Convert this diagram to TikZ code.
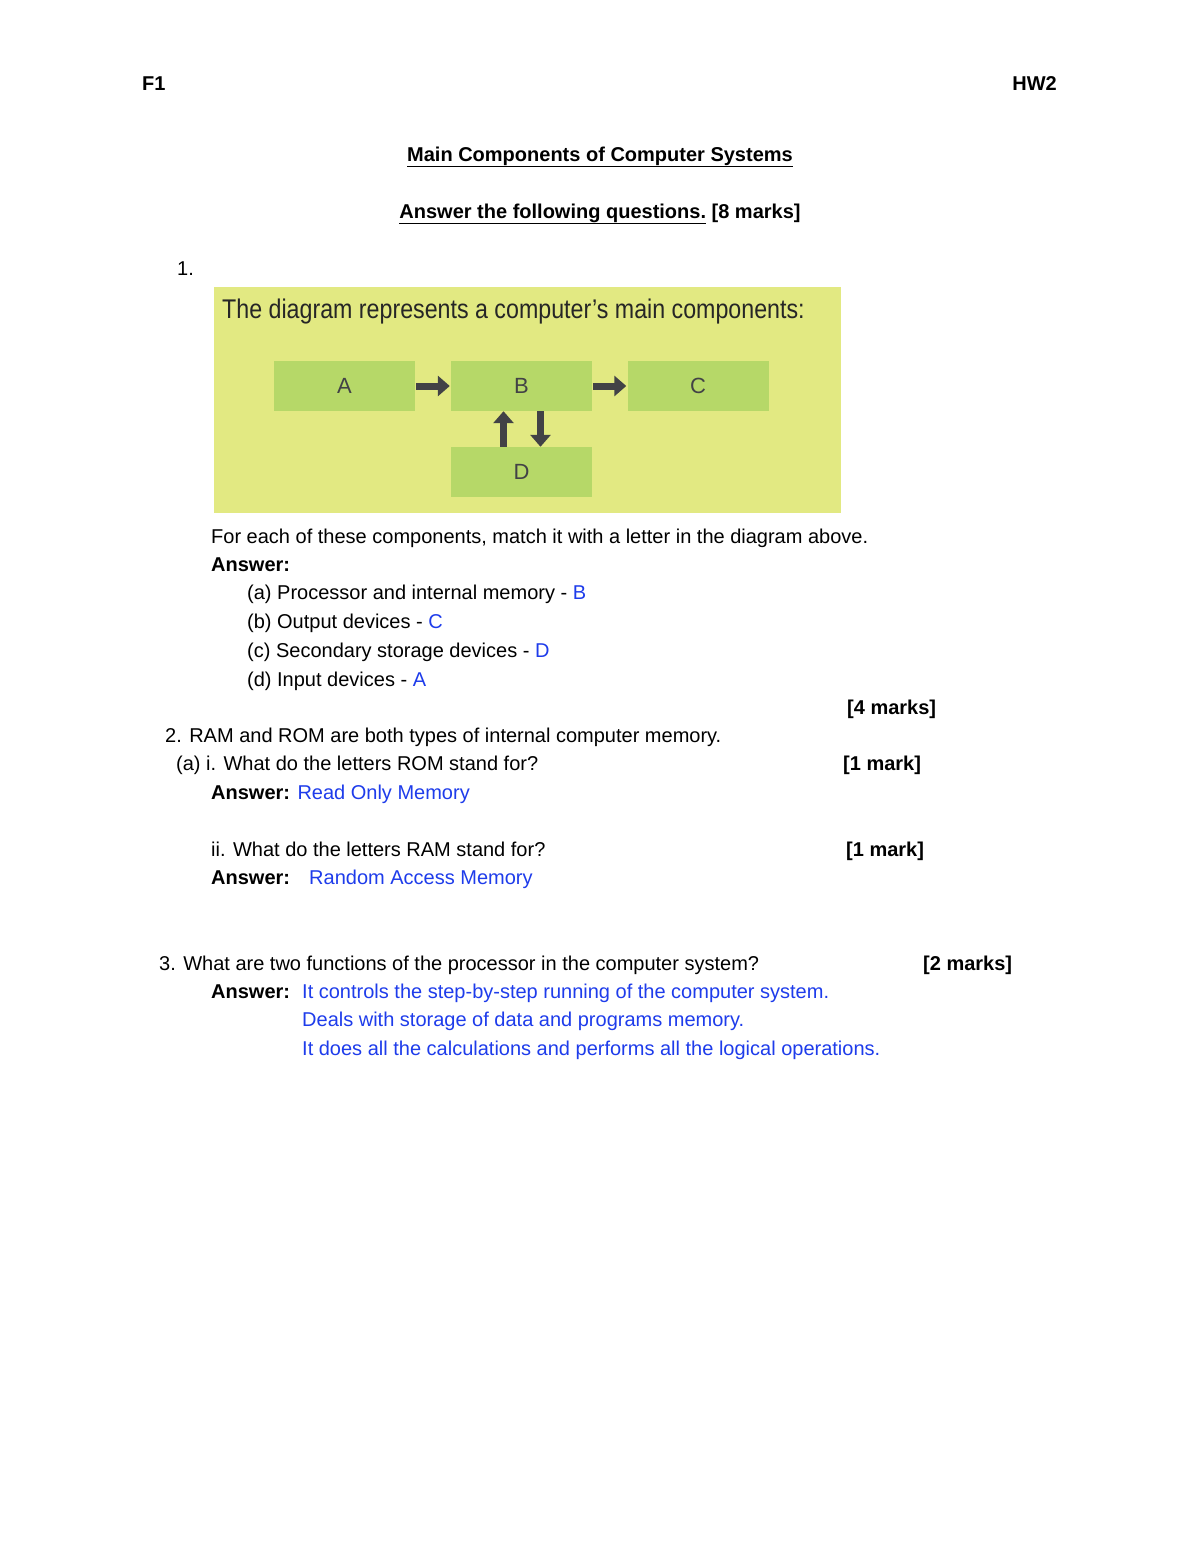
\documentclass[tikz,border=0pt]{standalone}
\usepackage{fontspec}
\setmainfont{Liberation Sans}
\usetikzlibrary{arrows.meta}
\definecolor{bgy}{RGB}{226,233,130}
\definecolor{boxg}{RGB}{182,216,104}
\definecolor{arr}{RGB}{66,66,70}
\definecolor{ans}{RGB}{30,60,235}
\tikzset{
 t/.style={anchor=base west,inner sep=0pt,font=\fontsize{20}{24}\selectfont},
 tr/.style={anchor=base east,inner sep=0pt,font=\fontsize{20}{24}\selectfont\bfseries},
 tc/.style={anchor=base,inner sep=0pt,font=\fontsize{20}{24}\selectfont\bfseries},
 gbox/.style={fill=boxg,draw=none,minimum width=141pt,minimum height=50pt,inner sep=0pt,font=\fontsize{22}{24}\selectfont,text=arr},
 blk/.style={draw=arr,line width=7pt,-{Triangle[length=12pt,width=20pt]}}
}
\begin{document}
\begin{tikzpicture}[x=1pt,y=-1pt]
\useasboundingbox (0,0) rectangle (1200,1553);
\fill[white] (0,0) rectangle (1200,1553);
\node[t,font=\fontsize{20}{24}\selectfont\bfseries] (f1) at (142,90) {F1};
\node[tr] (hw) at (1057,90) {HW2};
\node[tc] (title) at (600,161) {\underline{Main Components of Computer Systems}};
\node[tc] (inst) at (600,218) {\underline{Answer the following questions.} [8 marks]};
\node[t] (q1) at (177,275) {1.};
% diagram
\fill[bgy] (214,287) rectangle (841,513);
\node[anchor=base west,inner sep=0pt,text=black!85,font=\fontsize{27}{30}\selectfont] (dt) at (222,318) {\scalebox{0.86}[1]{The diagram represents a computer’s main components:}};
\node[gbox] (A) at (344.5,386) {A};
\node[gbox] (B) at (521.5,386) {B};
\node[gbox] (C) at (698,386) {C};
\node[gbox] (D) at (521.5,472) {D};
\draw[blk] (A.east) ++(1,0) coordinate (a1) -- ([xshift=-1pt]B.west);
\draw[blk] ([xshift=1pt]B.east) -- ([xshift=-1pt]C.west);
\draw[blk] ([xshift=-18pt]D.north) -- ([xshift=-18pt]B.south);
\draw[blk] ([xshift=19pt]B.south) -- ([xshift=19pt]D.north);
% q1 text
\node[t] (l1) at (211,543) {For each of these components, match it with a letter in the diagram above.};
\node[t] (l2) at (211,571) {\bfseries Answer:};
\node[t] (l3) at (247,599) {(a) Processor and internal memory - \textcolor{ans}{B}};
\node[t] (l4) at (247,628) {(b) Output devices - \textcolor{ans}{C}};
\node[t] (l5) at (247,657) {(c) Secondary storage devices - \textcolor{ans}{D}};
\node[t] (l6) at (247,686) {(d) Input devices - \textcolor{ans}{A}};
\node[t] (m4) at (847,714) {\bfseries [4 marks]};
\node[t] (q2) at (165,742) {2. RAM and ROM are both types of internal computer memory.};
\node[t] (q2a) at (176,770) {(a) i. What do the letters ROM stand for?};
\node[t] (m1a) at (843,770) {\bfseries [1 mark]};
\node[t] (a2a) at (211,799) {\textbf{Answer:} \textcolor{ans}{Read Only Memory}};
\node[t] (q2b) at (211,856) {ii. What do the letters RAM stand for?};
\node[t] (m1b) at (846,856) {\bfseries [1 mark]};
\node[t] (a2b) at (211,884) {\textbf{Answer:}};
\node[t,text=ans] (a2bt) at (309,884) {Random Access Memory};
\node[t] (q3) at (159,970) {3. What are two functions of the processor in the computer system?};
\node[t] (m2) at (923,970) {\bfseries [2 marks]};
\node[t] (a3) at (211,998) {\textbf{Answer:}};
\node[t,text=ans] (a31) at (302,998) {It controls the step-by-step running of the computer system.};
\node[t,text=ans] (a32) at (302,1026) {Deals with storage of data and programs memory.};
\node[t,text=ans] (a33) at (302,1055) {It does all the calculations and performs all the logical operations.};
\end{tikzpicture}
\end{document}
